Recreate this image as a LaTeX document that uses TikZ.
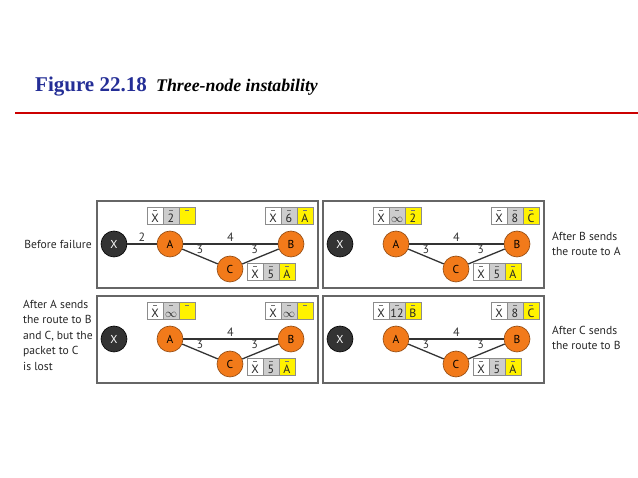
\documentclass[tikz,border=0pt]{standalone}
\usepackage{fontspec}
\setmainfont{PT Sans}
\newfontfamily\titlefont{Liberation Serif}
\usepackage{xcolor}
\usetikzlibrary{positioning}
\definecolor{routerorange}{RGB}{242,122,26}
\definecolor{titleblue}{RGB}{36,46,150}
\definecolor{cellgray}{RGB}{205,205,205}
\definecolor{cellyellow}{RGB}{255,242,0}

\begin{document}
\begin{tikzpicture}[x=1pt, y=-1pt,
    panel/.style={draw=black!60, line width=1.3pt, fill=white},
    router/.style={circle, draw=routerorange!60!black, line width=0.6pt, fill=routerorange, minimum size=26pt, inner sep=0pt, font=\fontsize{11.5}{12}\selectfont},
    down/.style={router, draw=black, fill=black!80, text=white},
    link/.style={draw=black!80, line width=1.3pt},
    wt/.style={font=\fontsize{12}{12}\selectfont, text=black!80, inner sep=2pt},
    cell/.style={draw=black!45, line width=0.6pt, fill=white, minimum width=16pt, minimum height=17pt, inner sep=0pt, outer sep=0pt, text height=14pt, text depth=0pt, font=\fontsize{12}{12}\selectfont, text=black!85,
        path picture={\draw[black!55, line width=0.7pt] ([xshift=-2pt,yshift=-3.5pt]path picture bounding box.north) -- ++(4pt,0);}},
    cellg/.style={cell, fill=cellgray},
    celly/.style={cell, fill=cellyellow},
    note/.style={font=\fontsize{11.6}{15.5}\selectfont, text=black!85, align=left, inner sep=0pt}]

    \useasboundingbox (0,0) rectangle (638,478);

    % Title
    \node[anchor=base west, inner sep=0pt, font=\titlefont\bfseries\fontsize{21}{24}\selectfont, text=titleblue] (fig) at (35,92) {Figure 22.18};
    \node[inner sep=0pt, font=\titlefont\bfseries\itshape\fontsize{17.8}{20}\selectfont, right=9pt of fig.base east, anchor=base west] (cap) {Three-node instability};
    \draw[red!80!black, line width=1.3pt] (15,113) -- (638,113);

    % Four panels
    \foreach \n/\dx/\dy/\ad/\an/\bd/\bn in {1/0/0/2/{}/6/A, 2/226/0/$\infty$/2/8/C, 3/0/95/$\infty$/{}/$\infty$/{}, 4/226/95/12/B/8/C}{
      \begin{scope}[shift={(\dx,\dy)}]
        \draw[panel] (97,201) rectangle (318,288);
        \node[down] (X\n) at (114,244) {X};
        \node[router] (A\n) at (170,244) {A};
        \node[router] (B\n) at (291,244) {B};
        \node[router] (C\n) at (230,269) {C};
        \draw[link] (A\n) -- node[wt, above] {4} (B\n);
        \draw[link] (A\n) -- node[wt, above] {3} (C\n);
        \draw[link] (C\n) -- node[wt, above left] {3} (B\n);
        % routing tables
        \node[cell, anchor=north west] (ta\n) at (147,207) {X};
        \node[cellg, right=0pt of ta\n] (tad\n) {\ad};
        \node[celly, right=0pt of tad\n] (tan\n) {\an};
        \node[cell, anchor=north west] (tb\n) at (265,207) {X};
        \node[cellg, right=0pt of tb\n] (tbd\n) {\bd};
        \node[celly, right=0pt of tbd\n] (tbn\n) {\bn};
        \node[cell, anchor=north west] (tc\n) at (247,263) {X};
        \node[cellg, right=0pt of tc\n] (tcd\n) {5};
        \node[celly, right=0pt of tcd\n] (tcn\n) {A};
      \end{scope}
    }
    \draw[link] (X1) -- node[wt, above] {2} (A1);

    % Captions
    \node[note, anchor=east] (n1) at (92,244) {Before failure};
    \node[note, anchor=west] (n2) at (552,244) {After B sends\\the route to A};
    \node[note, anchor=north west] (n3) at (23,300) {After A sends\\the route to B\\and C, but the\\packet to C\\is lost};
    \node[note, anchor=west] (n4) at (552,338) {After C sends\\the route to B};
\end{tikzpicture}
\end{document}
